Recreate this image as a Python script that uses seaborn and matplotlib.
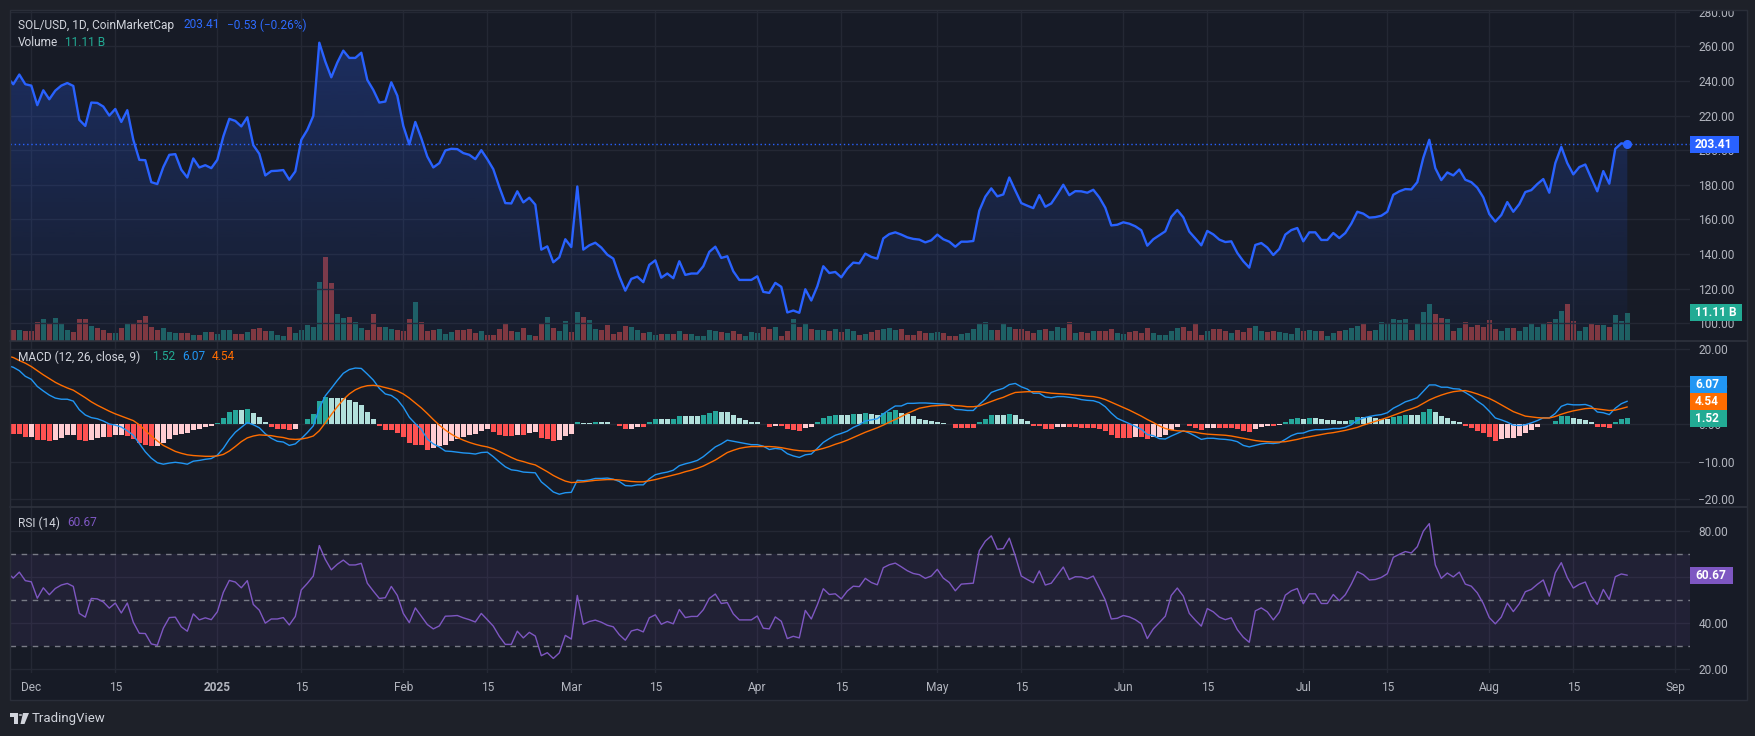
import numpy as np
import pandas as pd
import matplotlib
matplotlib.use("Agg")
import matplotlib.pyplot as plt
import matplotlib.dates as mdates
from matplotlib.colors import to_rgb
from matplotlib.patches import Rectangle, Polygon, Circle
from matplotlib.lines import Line2D
import seaborn as sns

# SOL/USD daily closes (CoinMarketCap), 27 Nov 2024 .. 24 Aug 2025
close_nov = [242.0, 238.1, 243.7, 238.1]
close_dec = [237.3, 226.0, 234.6, 229.4, 234.4, 237.3, 238.8, 237.1, 217.5, 214.0,
             227.5, 227.3, 225.2, 220.0, 223.8, 216.3, 223.1, 206.0, 194.4, 194.2,
             181.5, 180.4, 190.2, 197.3, 197.7, 188.7, 184.2, 195.2, 190.0, 191.3, 189.6]
close_jan = [194.4, 207.9, 218.1, 216.9, 213.7, 219.0, 202.9, 197.9, 185.4, 187.9,
             188.1, 188.5, 182.9, 187.7, 206.0, 211.7, 219.8, 262.1, 251.2, 242.1,
             250.6, 257.5, 253.3, 253.3, 256.3, 240.6, 234.8, 227.5, 228.1, 239.2, 231.5]
close_feb = [214.0, 203.3, 216.3, 206.9, 196.3, 190.0, 192.5, 199.8, 200.8, 200.6,
             198.3, 197.3, 194.8, 200.0, 194.8, 189.0, 178.7, 169.4, 169.2, 176.2,
             169.8, 172.5, 168.5, 142.5, 144.4, 135.2, 138.1, 148.5]
close_mar = [144.0, 179.0, 142.5, 145.0, 146.5, 143.7, 139.6, 137.3, 127.1, 118.8,
             125.6, 126.9, 123.7, 133.7, 136.3, 126.3, 128.7, 126.0, 135.8, 127.9,
             128.7, 128.7, 132.9, 141.2, 144.2, 137.7, 138.7, 130.0, 125.0, 125.0, 125.0]
close_apr = [127.1, 118.1, 117.5, 123.3, 121.0, 106.2, 107.3, 106.0, 119.6, 113.1,
             121.3, 132.9, 129.0, 129.6, 126.5, 131.5, 135.0, 134.6, 140.2, 138.3,
             137.3, 149.0, 151.5, 152.5, 151.2, 149.6, 148.7, 148.3, 146.7, 147.9]
close_may = [151.2, 148.5, 147.1, 144.2, 147.1, 147.1, 147.5, 165.0, 173.1, 177.9,
             173.3, 174.4, 184.2, 176.7, 169.4, 167.9, 166.5, 174.0, 167.3, 169.2,
             174.4, 180.0, 174.0, 176.3, 176.2, 175.4, 177.1, 172.7, 166.7, 156.5, 156.9]
close_jun = [158.3, 157.5, 156.0, 153.7, 144.8, 148.5, 150.8, 153.1, 161.5, 165.4,
             161.2, 152.9, 149.0, 145.0, 153.3, 151.3, 148.3, 146.9, 147.3, 140.6,
             135.8, 132.1, 145.2, 146.3, 143.7, 139.4, 142.9, 151.2, 153.8, 155.0]
close_jul = [147.3, 152.5, 152.5, 148.1, 148.1, 152.1, 149.2, 152.1, 157.5, 164.4,
             163.3, 161.0, 161.3, 162.1, 164.4, 174.2, 176.2, 177.5, 177.3, 181.5,
             195.6, 206.0, 189.6, 182.7, 187.1, 185.4, 188.8, 182.9, 181.5, 178.3, 172.7]
close_aug = [163.1, 158.7, 162.5, 170.0, 164.4, 168.8, 175.8, 176.9, 180.4, 183.3,
             175.4, 192.5, 201.9, 192.5, 186.0, 190.2, 191.7, 183.8, 176.2, 187.9,
             180.6, 200.8, 203.94, 203.41]

# volume, billions USD
vol_nov = [4.4, 4.4, 4.4, 4.0]
vol_dec = [4.0, 7.6, 8.8, 7.0, 9.2, 7.2, 4.4, 3.6, 8.8, 8.8, 6.0, 5.2, 4.4, 3.2, 3.2, 5.2,
           6.8, 7.2, 8.4, 10.0, 5.6, 4.4, 5.2, 3.6, 3.2, 3.2, 3.2, 2.4, 2.4, 3.6, 3.6]
vol_jan = [2.8, 4.4, 4.4, 2.8, 2.8, 3.6, 4.8, 5.2, 4.0, 4.0, 2.4, 2.0, 5.6, 3.2, 4.4, 6.4,
           5.6, 23.3, 33.4, 22.9, 10.8, 9.2, 9.6, 7.6, 5.2, 4.4, 10.8, 5.6, 5.6, 4.8, 4.4]
vol_feb = [4.0, 8.8, 15.6, 7.6, 4.0, 4.4, 4.8, 2.8, 3.6, 4.4, 4.4, 4.8, 3.2, 4.0, 2.4, 2.4,
           4.8, 6.8, 4.0, 3.6, 5.2, 2.4, 2.0, 7.2, 9.6, 5.2, 4.0, 8.0]
vol_mar = [3.6, 11.6, 9.6, 8.4, 4.8, 4.4, 6.4, 2.8, 3.6, 6.0, 5.6, 4.4, 3.2, 3.6, 2.4, 2.8,
           2.8, 2.8, 4.0, 2.8, 2.8, 2.0, 2.0, 4.4, 4.0, 3.6, 3.2, 4.0, 2.8, 2.0, 3.6]
vol_apr = [3.2, 5.6, 4.8, 5.6, 2.0, 4.0, 8.8, 5.6, 7.2, 4.8, 4.4, 4.4, 4.0, 4.8, 3.6, 4.8,
           4.0, 2.4, 2.8, 3.6, 4.4, 4.8, 5.2, 4.4, 4.8, 2.4, 2.4, 4.0, 3.2, 3.2]
vol_may = [3.6, 3.2, 2.0, 2.0, 2.8, 3.2, 4.8, 6.8, 7.6, 4.4, 4.4, 7.2, 5.6, 4.8, 4.8, 4.0,
           3.2, 4.4, 4.8, 4.0, 5.6, 5.2, 7.6, 3.2, 3.6, 3.2, 4.0, 4.0, 4.0, 4.8, 3.2]
vol_jun = [2.8, 3.6, 4.0, 3.2, 5.2, 3.2, 2.4, 2.4, 4.0, 5.2, 5.6, 4.0, 6.8, 2.4, 4.0, 4.8,
           4.8, 4.0, 3.2, 4.4, 3.6, 5.2, 6.0, 4.0, 3.6, 4.0, 3.6, 3.2, 2.8, 5.2]
vol_jul = [4.0, 4.4, 4.0, 4.0, 2.0, 3.2, 4.0, 4.4, 5.2, 6.0, 7.2, 4.0, 4.4, 7.6, 6.8, 8.8,
           8.4, 8.8, 4.4, 6.8, 11.6, 14.8, 10.8, 9.2, 8.8, 4.0, 5.2, 7.6, 5.6, 6.4, 5.6]
vol_aug = [8.4, 4.8, 4.0, 5.2, 5.2, 4.0, 5.6, 6.8, 5.6, 7.2, 7.6, 8.8, 12.0, 14.8, 8.0, 4.0,
           5.6, 6.8, 6.4, 6.4, 5.6, 10.4, 8.0, 11.11]

# MACD (12, 26, close, 9): histogram and signal line
hist_nov = [-2.5, -2.6, -2.7, -3.5]
hist_dec = [-3.4, -4.2, -4.3, -4.4, -4.2, -3.7, -3.0, -2.9, -4.2, -4.6, -4.2, -3.6, -3.4,
            -3.4, -3.0, -2.9, -3.3, -3.9, -5.0, -5.7, -5.9, -5.8, -5.0, -3.9, -2.9, -2.6,
            -2.5, -1.5, -1.2, -0.8, -0.6]
hist_jan = [0.2, 1.6, 3.1, 3.8, 3.8, 4.1, 3.0, 1.9, 0.4, -0.7, -1.2, -1.2, -1.7, -1.2, 0.1,
            1.4, 2.7, 6.0, 7.2, 7.0, 7.0, 7.0, 6.5, 5.8, 5.0, 3.1, 1.4, -0.6, -1.7, -1.7, -2.3]
hist_feb = [-3.5, -5.1, -5.5, -5.7, -6.8, -6.5, -5.8, -5.6, -4.6, -3.9, -3.4, -2.9, -2.6,
            -1.8, -1.4, -2.1, -2.8, -3.3, -3.3, -2.8, -2.8, -2.4, -2.1, -3.6, -4.0, -4.4,
            -4.2, -3.1]
hist_mar = [-2.6, 0.5, 0.3, 0.3, 0.5, 0.4, 0.4, 0.1, -0.4, -1.3, -1.2, -0.8, -0.8, 0.5, 1.3,
            1.3, 1.2, 1.3, 2.1, 2.1, 2.1, 2.1, 2.5, 3.0, 3.5, 3.3, 3.3, 2.4, 1.6, 1.0, 0.5]
hist_apr = [0.5, 0.1, -0.8, -0.4, -0.4, -1.3, -1.6, -1.8, -1.0, -0.8, 0.4, 1.6, 2.1, 2.4,
            2.4, 2.4, 2.7, 2.7, 3.0, 2.7, 2.4, 3.0, 3.3, 3.6, 2.8, 2.7, 2.0, 1.4, 1.1, 0.7]
hist_may = [0.5, 0.3, 0.1, -1.0, -1.0, -1.0, -1.0, 0.4, 1.2, 2.4, 2.4, 2.4, 2.7, 2.4, 1.4,
            0.7, -0.4, -0.4, -1.2, -1.2, -0.8, -0.7, -0.8, -0.8, -1.1, -1.1, -1.1, -1.3,
            -1.9, -2.9, -3.6]
hist_jun = [-3.6, -3.6, -3.5, -3.5, -4.0, -3.5, -3.4, -2.8, -1.6, -0.7, 0.1, -0.4, -1.0,
            -1.6, -1.1, -1.0, -1.1, -1.1, -1.1, -1.2, -1.9, -2.0, -1.3, -0.7, -0.4, -0.4,
            -0.2, 0.6, 1.3, 1.6]
hist_jul = [1.3, 1.6, 1.6, 1.3, 1.1, 1.1, 0.8, 0.8, 1.1, 1.9, 1.9, 1.8, 1.6, 1.3, 1.3, 1.9,
            2.1, 2.4, 2.4, 2.4, 3.2, 4.0, 3.3, 2.1, 1.6, 0.8, 0.5, -0.5, -1.1, -1.9, -2.4]
hist_aug = [-3.4, -4.4, -4.0, -3.7, -3.6, -3.1, -2.3, -1.6, -0.8, 0.05, 0.03, 0.8, 2.1, 2.2,
            1.6, 1.3, 1.1, 0.5, -0.8, -0.8, -1.1, 0.5, 1.3, 1.524]

signal_nov = [18.1, 17.7, 16.9, 16.2]
signal_dec = [15.3, 14.2, 13.1, 12.1, 11.1, 10.3, 9.6, 9.0, 8.0, 7.0, 5.9, 5.0, 4.2, 3.4,
              2.7, 2.1, 1.5, 0.9, -0.2, -1.7, -3.2, -4.5, -5.7, -6.5, -7.3, -7.8, -8.2,
              -8.4, -8.5, -8.6, -8.6]
signal_jan = [-8.5, -8.1, -7.2, -6.0, -4.7, -3.7, -3.2, -2.9, -3.0, -3.1, -3.4, -3.6, -4.0,
              -4.1, -4.0, -3.7, -3.2, -1.8, 0.3, 2.5, 4.6, 6.5, 8.0, 9.1, 9.8, 10.2, 10.3,
              10.1, 9.7, 9.3, 8.8]
signal_feb = [8.0, 6.9, 5.6, 4.3, 2.8, 1.2, -0.3, -1.6, -2.7, -3.6, -4.3, -4.9, -5.4, -5.8,
              -6.1, -6.6, -7.3, -8.1, -8.9, -9.6, -10.0, -10.5, -10.9, -11.8, -12.7, -13.7,
              -14.5, -15.2]
signal_mar = [-15.6, -15.5, -15.4, -15.2, -15.0, -14.9, -14.8, -14.8, -14.9, -15.1, -15.3,
              -15.4, -15.4, -15.1, -14.8, -14.4, -14.0, -13.6, -13.2, -12.7, -12.3, -11.8,
              -11.2, -10.4, -9.6, -8.6, -7.6, -7.0, -6.5, -6.2, -6.0]
signal_apr = [-6.0, -6.0, -6.0, -6.1, -6.3, -6.6, -6.9, -7.1, -7.2, -7.2, -6.9, -6.5, -6.0,
              -5.4, -4.9, -4.3, -3.6, -2.9, -2.2, -1.6, -1.0, -0.3, 0.5, 1.2, 2.0, 2.8, 3.5,
              4.2, 4.5, 4.8]
signal_may = [4.9, 5.0, 5.0, 4.9, 4.8, 4.6, 4.6, 4.8, 5.4, 6.0, 6.6, 7.1, 7.8, 8.4, 8.5, 8.6,
              8.6, 8.6, 8.4, 8.2, 8.1, 8.0, 7.9, 7.7, 7.6, 7.4, 7.3, 7.0, 6.5, 5.8, 5.1]
signal_jun = [4.4, 3.7, 2.9, 2.1, 1.2, 0.4, -0.5, -1.2, -1.6, -1.8, -1.9, -2.0, -2.2, -2.5,
              -2.7, -2.8, -2.9, -3.0, -3.2, -3.5, -3.8, -4.1, -4.4, -4.6, -4.7, -4.8, -4.8,
              -4.7, -4.4, -4.1]
signal_jul = [-3.7, -3.4, -3.1, -2.8, -2.5, -2.3, -2.0, -1.7, -1.3, -0.9, -0.3, 0.2, 0.7,
              1.2, 1.7, 2.3, 2.9, 3.5, 4.0, 4.6, 5.5, 6.4, 7.1, 7.7, 8.2, 8.6, 8.8, 8.9, 8.5,
              8.0, 7.4]
signal_aug = [6.8, 6.0, 5.1, 4.2, 3.3, 2.7, 2.1, 1.9, 1.7, 1.6, 1.6, 2.0, 2.6, 3.1, 3.5, 3.8,
              4.1, 4.2, 4.0, 3.8, 3.6, 3.7, 4.1, 4.544]

# RSI (14)
rsi_nov = [61.7, 59.4, 62.0, 58.3]
rsi_dec = [57.8, 50.7, 55.2, 52.2, 54.9, 56.4, 57.1, 55.8, 44.1, 42.5, 50.6, 50.4, 49.1,
           46.4, 48.6, 44.3, 48.6, 40.3, 35.5, 35.4, 30.9, 30.3, 37.7, 42.3, 42.5, 38.3,
           36.4, 43.9, 41.3, 42.2, 41.4]
rsi_jan = [44.8, 53.2, 58.4, 57.7, 55.2, 58.3, 48.0, 45.5, 39.9, 41.7, 41.7, 42.3, 39.1,
           42.8, 54.3, 57.1, 60.3, 73.5, 67.5, 63.0, 65.4, 67.2, 65.1, 65.1, 65.8, 57.2,
           53.8, 50.6, 50.9, 55.8, 51.9]
rsi_feb = [44.1, 40.1, 46.5, 42.9, 39.3, 37.4, 38.7, 42.9, 43.0, 43.2, 42.2, 41.4, 40.4,
           44.1, 41.4, 38.6, 34.2, 30.7, 30.7, 36.4, 33.5, 35.9, 34.3, 25.8, 27.1, 24.6,
           27.0, 34.6]
rsi_mar = [33.0, 51.9, 39.4, 40.6, 41.2, 40.3, 39.0, 38.3, 34.9, 32.5, 36.5, 37.2, 36.1,
           42.2, 43.5, 39.4, 40.6, 39.6, 45.8, 42.3, 42.8, 42.8, 45.7, 50.6, 52.5, 48.4,
           48.8, 43.9, 41.3, 41.3, 41.3]
rsi_apr = [43.0, 37.7, 37.4, 42.6, 40.7, 33.2, 34.2, 33.5, 45.4, 41.7, 47.8, 54.8, 52.3,
           52.6, 50.4, 53.8, 55.9, 55.7, 59.3, 57.5, 56.5, 63.9, 65.2, 65.9, 64.3, 62.6,
           61.4, 60.9, 59.3, 60.3]
rsi_may = [63.2, 59.4, 57.5, 53.9, 56.8, 57.0, 57.2, 71.3, 75.4, 77.7, 71.9, 72.2, 76.7,
           69.0, 60.3, 58.8, 57.4, 62.5, 56.4, 57.2, 60.7, 64.2, 58.8, 60.0, 59.9, 59.1,
           60.3, 55.2, 49.9, 41.7, 42.0]
rsi_jun = [43.2, 42.6, 41.4, 39.6, 33.2, 37.4, 40.1, 42.9, 51.9, 55.1, 51.6, 44.1, 41.2,
           38.6, 46.2, 44.8, 42.5, 41.4, 42.2, 37.1, 33.8, 31.6, 45.2, 46.5, 44.8, 41.3,
           44.6, 52.0, 53.9, 54.9]
rsi_jul = [48.3, 52.6, 52.6, 48.4, 48.4, 52.3, 49.6, 52.2, 56.8, 62.2, 60.9, 58.6, 58.8,
           59.7, 61.3, 68.4, 69.7, 70.9, 70.3, 73.0, 79.7, 83.0, 65.1, 59.3, 61.6, 59.9,
           62.0, 56.8, 55.9, 53.0, 48.4]
rsi_aug = [42.3, 39.6, 42.5, 48.6, 44.9, 48.3, 53.5, 54.5, 56.7, 58.6, 51.6, 61.7, 66.1,
           59.6, 55.1, 56.7, 57.7, 51.6, 48.0, 54.5, 50.1, 60.0, 61.2, 60.67]

price_ticks = [100, 120, 140, 160, 180, 200, 220, 240, 260, 280]
macd_ticks = [-20, -10, 0, 10, 20]
rsi_ticks = [20, 40, 60, 80]

close = np.array(close_nov + close_dec + close_jan + close_feb + close_mar + close_apr
                 + close_may + close_jun + close_jul + close_aug)
volume = np.array(vol_nov + vol_dec + vol_jan + vol_feb + vol_mar + vol_apr + vol_may
                  + vol_jun + vol_jul + vol_aug)
hist = np.array(hist_nov + hist_dec + hist_jan + hist_feb + hist_mar + hist_apr + hist_may
                + hist_jun + hist_jul + hist_aug)
signal = np.array(signal_nov + signal_dec + signal_jan + signal_feb + signal_mar + signal_apr
                  + signal_may + signal_jun + signal_jul + signal_aug)
rsi = np.array(rsi_nov + rsi_dec + rsi_jan + rsi_feb + rsi_mar + rsi_apr + rsi_may
               + rsi_jun + rsi_jul + rsi_aug)
macd_line = signal + hist
dates = pd.date_range("2024-11-27", periods=len(close), freq="D")

# colours (TradingView dark)
OUTER = "#1e2129"
BG = "#171b26"
GRID = "#242834"
BORDER = "#2a2e39"
TXT = "#b2b5be"
BLUE = "#2962ff"
UP, DOWN = "#26a69a", "#ef5350"
MACD_C, SIG_C, RSI_C = "#2196f3", "#ff6d00", "#7e57c2"

sns.set_theme(style="dark")
plt.rcParams["font.family"] = ["Roboto", "DejaVu Sans"]
plt.rcParams["axes.unicode_minus"] = True

W, H = 1756, 736
fig = plt.figure(figsize=(W / 100, H / 100), dpi=100)
fig.patch.set_facecolor(OUTER)

def fx(px):
    return px / W

def fy(py):
    return 1 - py / H

PL, PR = 10, 1690          # plot area left/right (px)
FR, FB = 1747, 700         # frame right/bottom

# chart container
fig.add_artist(Rectangle((fx(PL), fy(FB)), fx(FR - PL), (FB - 10) / H,
                         transform=fig.transFigure, facecolor=BG, edgecolor="none", zorder=-5))

def pane(top, bottom, **kw):
    ax = fig.add_axes([fx(PL), fy(bottom), fx(PR - PL), (bottom - top) / H], **kw)
    ax.patch.set_visible(False)
    for s in ax.spines.values():
        s.set_visible(False)
    return ax

ax_p = pane(10, 341)
ax_m = pane(341, 507, sharex=ax_p)
ax_r = pane(507, 673, sharex=ax_p)

dec1 = mdates.date2num(pd.Timestamp("2024-12-01"))
xlim = (dec1 - 3.55, dec1 + 276.45)

# --- price pane -------------------------------------------------------------
ax_v = ax_p.twinx()
ax_v.set_zorder(ax_p.get_zorder() - 1)
ax_v.patch.set_visible(False)
for s in ax_v.spines.values():
    s.set_visible(False)
up = np.r_[True, close[1:] >= close[:-1]]
up[-1] = True  # last daily candle closed above its open
vol_colors = [(*to_rgb(UP), 0.5) if u else (*to_rgb(DOWN), 0.5) for u in up]
ax_v.bar(dates, volume, width=0.78, color=vol_colors, linewidth=0)
ax_v.set_ylim(0, 131)
ax_v.set_yticks([])

p_lo, p_hi = 89.7, 281.0
fill = ax_p.fill_between(dates, close, p_lo, facecolor="none", edgecolor="none")
grad = np.zeros((256, 1, 4))
grad[:, 0, :3] = to_rgb(BLUE)
grad[:, 0, 3] = np.linspace(0.03, 0.27, 256)
img = ax_p.imshow(grad, extent=[xlim[0], xlim[1], p_lo, close.max()], origin="lower",
                  aspect="auto", zorder=1, interpolation="bilinear")
img.set_clip_path(fill.get_paths()[0], transform=ax_p.transData)
sns.lineplot(x=dates, y=close, ax=ax_p, color=BLUE, linewidth=1.7, legend=False, zorder=4)
ax_p.axhline(close[-1], color=BLUE, linestyle=(0, (1, 2)), linewidth=1.0, zorder=3)
ax_p.plot(dates[-1:], close[-1:], "o", color=BLUE, markersize=5.5, zorder=5)
ax_p.set_ylim(p_lo, p_hi)
ax_p.set_yticks(price_ticks, [f"{t:.2f}" for t in price_ticks])

# --- MACD pane --------------------------------------------------------------
prev = np.r_[hist[0], hist[:-1]]
hist_colors = np.where(hist >= 0,
                       np.where(prev < hist, "#26a69a", "#b2dfdb"),
                       np.where(prev < hist, "#ffcdd2", "#ff5252"))
ax_m.bar(dates, hist, width=0.78, color=hist_colors, linewidth=0, zorder=2)
sns.lineplot(x=dates, y=macd_line, ax=ax_m, color=MACD_C, linewidth=1.0, legend=False, zorder=3)
sns.lineplot(x=dates, y=signal, ax=ax_m, color=SIG_C, linewidth=1.0, legend=False, zorder=3)
ax_m.set_ylim(-22.1, 22.1)
ax_m.set_yticks(macd_ticks, [f"{t:.2f}".replace("-", "\u2212") for t in macd_ticks])

# --- RSI pane ---------------------------------------------------------------
ax_r.axhspan(30, 70, color=RSI_C, alpha=0.1, linewidth=0, zorder=1)
for lvl in (70, 50, 30):
    ax_r.axhline(lvl, color="#787b86", linestyle=(0, (4, 4)), linewidth=1.0, zorder=2)
sns.lineplot(x=dates, y=rsi, ax=ax_r, color=RSI_C, linewidth=1.0, legend=False, zorder=3)
ax_r.set_ylim(18.3, 90.2)
ax_r.set_yticks(rsi_ticks, [f"{t:.2f}" for t in rsi_ticks])

# --- shared axis styling ----------------------------------------------------
tick_dates = pd.date_range("2024-12-01", "2025-09-01", freq="SMS")
tick_labels = ["15" if d.day == 15 else (str(d.year) if d.month == 1 else d.strftime("%b"))
               for d in tick_dates]
for ax in (ax_p, ax_m, ax_r):
    ax.set_xlabel("")
    ax.set_ylabel("")
    ax.yaxis.tick_right()
    ax.grid(True, color=GRID, linewidth=1.0)
    ax.set_axisbelow(True)
    ax.tick_params(axis="y", length=0, pad=6, labelcolor=TXT, labelsize=8.6)
    ax.tick_params(axis="x", length=0, labelbottom=False)
ax_r.set_xticks(tick_dates, tick_labels)
ax_r.tick_params(axis="x", labelbottom=True, pad=6, labelcolor=TXT, labelsize=8.6)
for lab in ax_r.get_xticklabels():
    if lab.get_text() == "2025":
        lab.set_fontweight("bold")
ax_p.set_xlim(*xlim)

# --- frame, separators, margins ---------------------------------------------
fig.add_artist(Rectangle((0, fy(10)), 1, 10 / H, transform=fig.transFigure,
                         facecolor=OUTER, edgecolor="none", zorder=8))
for y in (341, 507):
    fig.add_artist(Line2D([fx(PL), fx(FR)], [fy(y), fy(y)], transform=fig.transFigure,
                          color="#2f333e", linewidth=1.2, zorder=9))
for xs, ys in (([PL, FR], [10, 10]), ([PL, FR], [FB, FB]), ([PL, PL], [10, FB]), ([FR, FR], [10, FB])):
    fig.add_artist(Line2D([fx(v) for v in xs], [fy(v) for v in ys], transform=fig.transFigure,
                          color=BORDER, linewidth=1.0, zorder=9))

# --- price-scale badges -----------------------------------------------------
def data_py(ax, v):
    return H - ax.transData.transform((xlim[0], v))[1]

def badge(yc, text, face, width):
    fig.add_artist(Rectangle((fx(PR), fy(yc + 8.5)), width / W, 17 / H, transform=fig.transFigure,
                             facecolor=face, edgecolor="none", zorder=10))
    fig.text(fx(PR + 5), fy(yc), text, color="white", fontsize=8.6, fontweight="bold",
             ha="left", va="center", zorder=11)

badge(data_py(ax_p, close[-1]), f"{close[-1]:.2f}", BLUE, 49)
badge(H - ax_v.transData.transform((xlim[0], volume[-1]))[1], f"{volume[-1]:.2f} B", "#22ab94", 52)
stack = sorted([(hist[-1], "#22ab94"), (signal[-1], SIG_C), (macd_line[-1], MACD_C)])
yc_prev = None
for val, col in stack:
    yc = data_py(ax_m, val)
    if yc_prev is not None:
        yc = min(yc, yc_prev - 17)
    badge(yc, f"{val:.2f}", col, 37)
    yc_prev = yc
badge(data_py(ax_r, rsi[-1]), f"{rsi[-1]:.2f}", RSI_C, 43)

# --- legends ----------------------------------------------------------------
chg = close[-1] - close[-2]
pct = chg / close[-2] * 100
def legend(x, y, text, color, size=8.6):
    fig.text(fx(x), fy(y), text, color=color, fontsize=size, ha="left", va="center", zorder=11)

legend(18, 25, "SOL/USD, 1D, CoinMarketCap", "#d1d4dc")
legend(183, 25, f"{close[-1]:.2f}", "#2e6bff")
legend(227, 25, f"\u2212{abs(chg):.2f} (\u2212{abs(pct):.2f}%)", "#2e6bff")
legend(18, 42, "Volume", "#d1d4dc")
legend(65, 42, f"{volume[-1]:.2f} B", "#22ab94")
legend(18, 357, "MACD (12, 26, close, 9)", "#d1d4dc")
legend(152, 357, f"{hist[-1]:.2f}", "#22ab94")
legend(182, 357, f"{macd_line[-1]:.2f}", MACD_C)
legend(212, 357, f"{signal[-1]:.2f}", SIG_C)
legend(18, 523, "RSI (14)", "#d1d4dc")
legend(67, 523, f"{rsi[-1]:.2f}", RSI_C)

# --- TradingView mark -------------------------------------------------------
def px_poly(pts, **kw):
    fig.add_artist(Polygon([(fx(x), fy(y)) for x, y in pts], closed=True,
                           transform=fig.transFigure, **kw))

logo = "#d1d4dc"
px_poly([(10, 713), (18, 713), (18, 724), (14.5, 724), (14.5, 716.5), (10, 716.5)],
        facecolor=logo, edgecolor="none", zorder=11)
fig.add_artist(Circle((fx(20.5), fy(715)), 1.8 / W, transform=fig.transFigure,
                      facecolor=logo, edgecolor="none", zorder=11))
px_poly([(23, 713), (29, 713), (24.5, 724), (20.5, 724)], facecolor=logo, edgecolor="none", zorder=11)
legend(32, 718.5, "TradingView", logo, size=9.5)

fig.savefig("out.png", dpi=100, facecolor=OUTER)
